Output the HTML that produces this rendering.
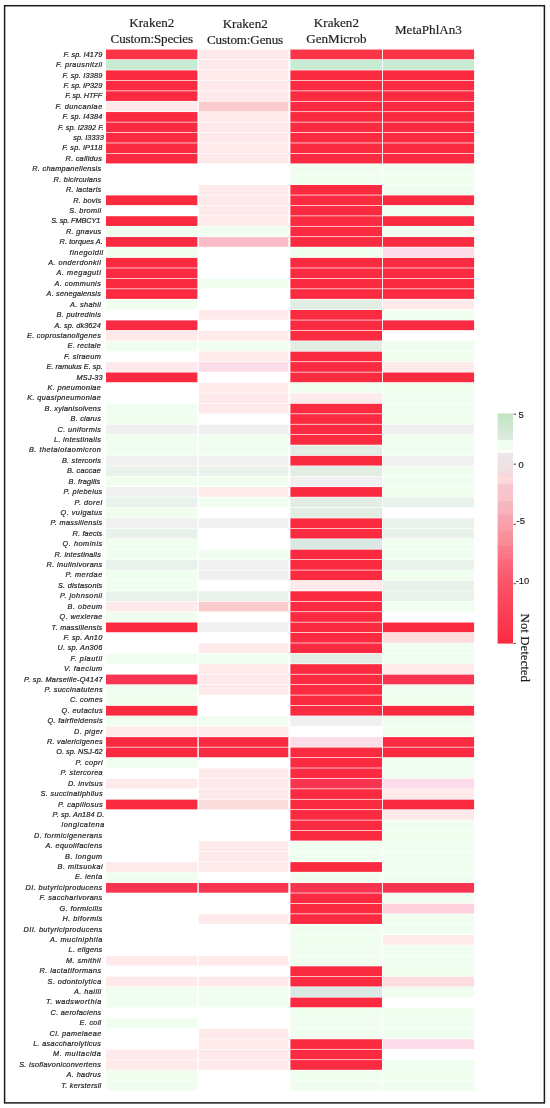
<!DOCTYPE html>
<html lang="en"><head><meta charset="utf-8"><title>Heatmap</title>
<style>
html,body{margin:0;padding:0;background:#fff;}
body{width:550px;height:1108px;overflow:hidden;}
svg{display:block;}
.hd{font-family:"Liberation Serif","DejaVu Serif",serif;font-size:13.1px;fill:#1e1e1e;stroke:#1e1e1e;stroke-width:0.18px;text-anchor:middle;}
.lb{font-family:"Liberation Sans","DejaVu Sans",sans-serif;font-style:italic;font-size:7.3px;fill:#222;stroke:#222;stroke-width:0.2px;text-anchor:end;}
.tk{font-family:"Liberation Sans","DejaVu Sans",sans-serif;font-size:9.4px;fill:#1e1e1e;stroke:#1e1e1e;stroke-width:0.2px;}
.nd{font-family:"Liberation Serif","DejaVu Serif",serif;font-size:12.9px;fill:#1e1e1e;stroke:#1e1e1e;stroke-width:0.18px;}
</style></head><body>
<svg width="550" height="1108" viewBox="0 0 550 1108">
<rect x="0" y="0" width="550" height="1108" fill="#ffffff"/>
<rect x="4.6" y="5.7" width="539.8" height="1097.2" fill="none" stroke="#1c1c1c" stroke-width="1.5"/>
<defs>
<linearGradient id="cg" x1="0" y1="0" x2="0" y2="1">
<stop offset="0" stop-color="#c2e6c2"/><stop offset="1" stop-color="#dde9e1"/>
</linearGradient>
<linearGradient id="cr" x1="0" y1="0" x2="0" y2="1">
<stop offset="0.0000" stop-color="#ebe7e9"/>
<stop offset="0.0901" stop-color="#f0dfe2"/>
<stop offset="0.1247" stop-color="#f6d6da"/>
<stop offset="0.1279" stop-color="#fddadb"/>
<stop offset="0.1635" stop-color="#fdd6d8"/>
<stop offset="0.1656" stop-color="#f3c8ce"/>
<stop offset="0.2500" stop-color="#fcc2c6"/>
<stop offset="0.2521" stop-color="#f2b8c2"/>
<stop offset="0.3229" stop-color="#fcb0b6"/>
<stop offset="0.3249" stop-color="#f4a6b4"/>
<stop offset="0.4088" stop-color="#fc9ca6"/>
<stop offset="0.4109" stop-color="#f894a0"/>
<stop offset="0.4879" stop-color="#fc8a94"/>
<stop offset="0.4900" stop-color="#fa7e90"/>
<stop offset="0.5545" stop-color="#fa7484"/>
<stop offset="0.5566" stop-color="#fa6c7e"/>
<stop offset="0.6824" stop-color="#fa5468"/>
<stop offset="1.0000" stop-color="#fa2a41"/>
</linearGradient>
</defs>
<g class="hd"><text x="151.8" y="27">Kraken2</text><text x="151.8" y="43.3" textLength="82.4">Custom:Species</text><text x="245.2" y="28">Kraken2</text><text x="245.1" y="44.4" textLength="76.2">Custom:Genus</text><text x="336.4" y="27">Kraken2</text><text x="336.4" y="43.3">GenMicrob</text><text x="428.4" y="33.5">MetaPhlAn3</text></g>
<g><rect x="106.0" y="49.55" width="91.4" height="9.72" fill="#fb3447"/><rect x="198.8" y="49.55" width="89.5" height="9.72" fill="#feeaea"/><rect x="290.4" y="49.55" width="91.6" height="9.72" fill="#fb3447"/><rect x="382.9" y="49.55" width="91.2" height="9.72" fill="#fb3447"/>
<rect x="106.0" y="59.97" width="91.4" height="9.72" fill="#c8ebd4"/><rect x="198.8" y="59.97" width="89.5" height="9.72" fill="#feeaea"/><rect x="290.4" y="59.97" width="91.6" height="9.72" fill="#c8ebd4"/><rect x="382.9" y="59.97" width="91.2" height="9.72" fill="#c8ebd4"/>
<rect x="106.0" y="70.39" width="91.4" height="9.72" fill="#fa2a41"/><rect x="198.8" y="70.39" width="89.5" height="9.72" fill="#feeaea"/><rect x="290.4" y="70.39" width="91.6" height="9.72" fill="#fa2a41"/><rect x="382.9" y="70.39" width="91.2" height="9.72" fill="#fa2a41"/>
<rect x="106.0" y="80.80" width="91.4" height="9.72" fill="#fa2a41"/><rect x="198.8" y="80.80" width="89.5" height="9.72" fill="#feeaea"/><rect x="290.4" y="80.80" width="91.6" height="9.72" fill="#fa2a41"/><rect x="382.9" y="80.80" width="91.2" height="9.72" fill="#fa2a41"/>
<rect x="106.0" y="91.22" width="91.4" height="9.72" fill="#fa2a41"/><rect x="198.8" y="91.22" width="89.5" height="9.72" fill="#feeaea"/><rect x="290.4" y="91.22" width="91.6" height="9.72" fill="#fa2a41"/><rect x="382.9" y="91.22" width="91.2" height="9.72" fill="#fa2a41"/>
<rect x="106.0" y="101.64" width="91.4" height="9.72" fill="#feeaea"/><rect x="198.8" y="101.64" width="89.5" height="9.72" fill="#fbcacd"/><rect x="290.4" y="101.64" width="91.6" height="9.72" fill="#fa2a41"/><rect x="382.9" y="101.64" width="91.2" height="9.72" fill="#fa2a41"/>
<rect x="106.0" y="112.06" width="91.4" height="9.72" fill="#fa2a41"/><rect x="198.8" y="112.06" width="89.5" height="9.72" fill="#feeaea"/><rect x="290.4" y="112.06" width="91.6" height="9.72" fill="#fa2a41"/><rect x="382.9" y="112.06" width="91.2" height="9.72" fill="#fa2a41"/>
<rect x="106.0" y="122.47" width="91.4" height="9.72" fill="#fa2a41"/><rect x="198.8" y="122.47" width="89.5" height="9.72" fill="#feeaea"/><rect x="290.4" y="122.47" width="91.6" height="9.72" fill="#fa2a41"/><rect x="382.9" y="122.47" width="91.2" height="9.72" fill="#fa2a41"/>
<rect x="106.0" y="132.89" width="91.4" height="9.72" fill="#fa2a41"/><rect x="198.8" y="132.89" width="89.5" height="9.72" fill="#feeaea"/><rect x="290.4" y="132.89" width="91.6" height="9.72" fill="#fa2a41"/><rect x="382.9" y="132.89" width="91.2" height="9.72" fill="#fa2a41"/>
<rect x="106.0" y="143.31" width="91.4" height="9.72" fill="#fa2a41"/><rect x="198.8" y="143.31" width="89.5" height="9.72" fill="#feeaea"/><rect x="290.4" y="143.31" width="91.6" height="9.72" fill="#fa2a41"/><rect x="382.9" y="143.31" width="91.2" height="9.72" fill="#fa2a41"/>
<rect x="106.0" y="153.73" width="91.4" height="9.72" fill="#fa2a41"/><rect x="198.8" y="153.73" width="89.5" height="9.72" fill="#feeaea"/><rect x="290.4" y="153.73" width="91.6" height="9.72" fill="#fa2a41"/><rect x="382.9" y="153.73" width="91.2" height="9.72" fill="#fa2a41"/>
<rect x="290.4" y="164.14" width="91.6" height="9.72" fill="#effeef"/><rect x="382.9" y="164.14" width="91.2" height="9.72" fill="#effeef"/>
<rect x="290.4" y="174.56" width="91.6" height="9.72" fill="#effeef"/><rect x="382.9" y="174.56" width="91.2" height="9.72" fill="#effeef"/>
<rect x="198.8" y="184.98" width="89.5" height="9.72" fill="#feeaea"/><rect x="290.4" y="184.98" width="91.6" height="9.72" fill="#fa2a41"/><rect x="382.9" y="184.98" width="91.2" height="9.72" fill="#effeef"/>
<rect x="106.0" y="195.40" width="91.4" height="9.72" fill="#fa2a41"/><rect x="198.8" y="195.40" width="89.5" height="9.72" fill="#feeaea"/><rect x="290.4" y="195.40" width="91.6" height="9.72" fill="#fa2a41"/><rect x="382.9" y="195.40" width="91.2" height="9.72" fill="#fa2a41"/>
<rect x="198.8" y="205.82" width="89.5" height="9.72" fill="#feeaea"/><rect x="290.4" y="205.82" width="91.6" height="9.72" fill="#fa2a41"/><rect x="382.9" y="205.82" width="91.2" height="9.72" fill="#effeef"/>
<rect x="106.0" y="216.23" width="91.4" height="9.72" fill="#fa2a41"/><rect x="198.8" y="216.23" width="89.5" height="9.72" fill="#feeaea"/><rect x="290.4" y="216.23" width="91.6" height="9.72" fill="#fa2a41"/><rect x="382.9" y="216.23" width="91.2" height="9.72" fill="#fa2a41"/>
<rect x="106.0" y="226.65" width="91.4" height="9.72" fill="#effeef"/><rect x="198.8" y="226.65" width="89.5" height="9.72" fill="#effeef"/><rect x="290.4" y="226.65" width="91.6" height="9.72" fill="#fa2a41"/><rect x="382.9" y="226.65" width="91.2" height="9.72" fill="#effeef"/>
<rect x="106.0" y="237.07" width="91.4" height="9.72" fill="#fa2a41"/><rect x="198.8" y="237.07" width="89.5" height="9.72" fill="#fbbcc8"/><rect x="290.4" y="237.07" width="91.6" height="9.72" fill="#fa2a41"/><rect x="382.9" y="237.07" width="91.2" height="9.72" fill="#fa2a41"/>
<rect x="106.0" y="247.49" width="91.4" height="9.72" fill="#effeef"/><rect x="290.4" y="247.49" width="91.6" height="9.72" fill="#effeef"/><rect x="382.9" y="247.49" width="91.2" height="9.72" fill="#fcdce8"/>
<rect x="106.0" y="257.90" width="91.4" height="9.72" fill="#fa2a41"/><rect x="290.4" y="257.90" width="91.6" height="9.72" fill="#fa2a41"/><rect x="382.9" y="257.90" width="91.2" height="9.72" fill="#fa2a41"/>
<rect x="106.0" y="268.32" width="91.4" height="9.72" fill="#fa2a41"/><rect x="290.4" y="268.32" width="91.6" height="9.72" fill="#fa2a41"/><rect x="382.9" y="268.32" width="91.2" height="9.72" fill="#fa2a41"/>
<rect x="106.0" y="278.74" width="91.4" height="9.72" fill="#fa2a41"/><rect x="198.8" y="278.74" width="89.5" height="9.72" fill="#effeef"/><rect x="290.4" y="278.74" width="91.6" height="9.72" fill="#fa2a41"/><rect x="382.9" y="278.74" width="91.2" height="9.72" fill="#fa2a41"/>
<rect x="106.0" y="289.16" width="91.4" height="9.72" fill="#fa2a41"/><rect x="290.4" y="289.16" width="91.6" height="9.72" fill="#fa2a41"/><rect x="382.9" y="289.16" width="91.2" height="9.72" fill="#fa2a41"/>
<rect x="106.0" y="299.57" width="91.4" height="9.72" fill="#effeef"/><rect x="290.4" y="299.57" width="91.6" height="9.72" fill="#e2ede4"/><rect x="382.9" y="299.57" width="91.2" height="9.72" fill="#feeaea"/>
<rect x="198.8" y="309.99" width="89.5" height="9.72" fill="#feeaea"/><rect x="290.4" y="309.99" width="91.6" height="9.72" fill="#fa2a41"/><rect x="382.9" y="309.99" width="91.2" height="9.72" fill="#effeef"/>
<rect x="106.0" y="320.41" width="91.4" height="9.72" fill="#fa2a41"/><rect x="290.4" y="320.41" width="91.6" height="9.72" fill="#fa2a41"/><rect x="382.9" y="320.41" width="91.2" height="9.72" fill="#fa2a41"/>
<rect x="106.0" y="330.83" width="91.4" height="9.72" fill="#feeaea"/><rect x="198.8" y="330.83" width="89.5" height="9.72" fill="#feeaea"/><rect x="290.4" y="330.83" width="91.6" height="9.72" fill="#fa2a41"/>
<rect x="106.0" y="341.25" width="91.4" height="9.72" fill="#effeef"/><rect x="198.8" y="341.25" width="89.5" height="9.72" fill="#effeef"/><rect x="290.4" y="341.25" width="91.6" height="9.72" fill="#e2ede4"/><rect x="382.9" y="341.25" width="91.2" height="9.72" fill="#effeef"/>
<rect x="198.8" y="351.66" width="89.5" height="9.72" fill="#feeaea"/><rect x="290.4" y="351.66" width="91.6" height="9.72" fill="#fa2a41"/><rect x="382.9" y="351.66" width="91.2" height="9.72" fill="#effeef"/>
<rect x="106.0" y="362.08" width="91.4" height="9.72" fill="#feeaea"/><rect x="198.8" y="362.08" width="89.5" height="9.72" fill="#fcdce8"/><rect x="290.4" y="362.08" width="91.6" height="9.72" fill="#fa2a41"/><rect x="382.9" y="362.08" width="91.2" height="9.72" fill="#feeaea"/>
<rect x="106.0" y="372.50" width="91.4" height="9.72" fill="#fa2a41"/><rect x="290.4" y="372.50" width="91.6" height="9.72" fill="#fa2a41"/><rect x="382.9" y="372.50" width="91.2" height="9.72" fill="#fa2a41"/>
<rect x="198.8" y="382.92" width="89.5" height="9.72" fill="#feeaea"/><rect x="290.4" y="382.92" width="91.6" height="9.72" fill="#effeef"/><rect x="382.9" y="382.92" width="91.2" height="9.72" fill="#effeef"/>
<rect x="198.8" y="393.33" width="89.5" height="9.72" fill="#feeaea"/><rect x="290.4" y="393.33" width="91.6" height="9.72" fill="#feeaea"/><rect x="382.9" y="393.33" width="91.2" height="9.72" fill="#effeef"/>
<rect x="106.0" y="403.75" width="91.4" height="9.72" fill="#effeef"/><rect x="198.8" y="403.75" width="89.5" height="9.72" fill="#feeaea"/><rect x="290.4" y="403.75" width="91.6" height="9.72" fill="#fa2a41"/><rect x="382.9" y="403.75" width="91.2" height="9.72" fill="#effeef"/>
<rect x="106.0" y="414.17" width="91.4" height="9.72" fill="#effeef"/><rect x="290.4" y="414.17" width="91.6" height="9.72" fill="#fa2a41"/><rect x="382.9" y="414.17" width="91.2" height="9.72" fill="#effeef"/>
<rect x="106.0" y="424.59" width="91.4" height="9.72" fill="#f1f0f0"/><rect x="198.8" y="424.59" width="89.5" height="9.72" fill="#f1f0f0"/><rect x="290.4" y="424.59" width="91.6" height="9.72" fill="#fa2a41"/><rect x="382.9" y="424.59" width="91.2" height="9.72" fill="#f1f0f0"/>
<rect x="106.0" y="435.00" width="91.4" height="9.72" fill="#effeef"/><rect x="198.8" y="435.00" width="89.5" height="9.72" fill="#effeef"/><rect x="290.4" y="435.00" width="91.6" height="9.72" fill="#fa2a41"/><rect x="382.9" y="435.00" width="91.2" height="9.72" fill="#effeef"/>
<rect x="106.0" y="445.42" width="91.4" height="9.72" fill="#effeef"/><rect x="198.8" y="445.42" width="89.5" height="9.72" fill="#effeef"/><rect x="290.4" y="445.42" width="91.6" height="9.72" fill="#e2ede4"/><rect x="382.9" y="445.42" width="91.2" height="9.72" fill="#effeef"/>
<rect x="106.0" y="455.84" width="91.4" height="9.72" fill="#f1f0f0"/><rect x="198.8" y="455.84" width="89.5" height="9.72" fill="#f1f0f0"/><rect x="290.4" y="455.84" width="91.6" height="9.72" fill="#fa2a41"/><rect x="382.9" y="455.84" width="91.2" height="9.72" fill="#f1f0f0"/>
<rect x="106.0" y="466.26" width="91.4" height="9.72" fill="#e8f1ea"/><rect x="198.8" y="466.26" width="89.5" height="9.72" fill="#e8f1ea"/><rect x="290.4" y="466.26" width="91.6" height="9.72" fill="#e2ede4"/><rect x="382.9" y="466.26" width="91.2" height="9.72" fill="#effeef"/>
<rect x="106.0" y="476.68" width="91.4" height="9.72" fill="#effeef"/><rect x="198.8" y="476.68" width="89.5" height="9.72" fill="#effeef"/><rect x="290.4" y="476.68" width="91.6" height="9.72" fill="#f1f0f0"/><rect x="382.9" y="476.68" width="91.2" height="9.72" fill="#effeef"/>
<rect x="106.0" y="487.09" width="91.4" height="9.72" fill="#f1f0f0"/><rect x="198.8" y="487.09" width="89.5" height="9.72" fill="#feeaea"/><rect x="290.4" y="487.09" width="91.6" height="9.72" fill="#fa2a41"/><rect x="382.9" y="487.09" width="91.2" height="9.72" fill="#effeef"/>
<rect x="106.0" y="497.51" width="91.4" height="9.72" fill="#e8f1ea"/><rect x="198.8" y="497.51" width="89.5" height="9.72" fill="#effeef"/><rect x="290.4" y="497.51" width="91.6" height="9.72" fill="#e2ede4"/><rect x="382.9" y="497.51" width="91.2" height="9.72" fill="#e8f1ea"/>
<rect x="106.0" y="507.93" width="91.4" height="9.72" fill="#effeef"/><rect x="290.4" y="507.93" width="91.6" height="9.72" fill="#e2ede4"/>
<rect x="106.0" y="518.35" width="91.4" height="9.72" fill="#f1f0f0"/><rect x="198.8" y="518.35" width="89.5" height="9.72" fill="#f1f0f0"/><rect x="290.4" y="518.35" width="91.6" height="9.72" fill="#fa2a41"/><rect x="382.9" y="518.35" width="91.2" height="9.72" fill="#e8f1ea"/>
<rect x="106.0" y="528.76" width="91.4" height="9.72" fill="#e8f1ea"/><rect x="290.4" y="528.76" width="91.6" height="9.72" fill="#fa2a41"/><rect x="382.9" y="528.76" width="91.2" height="9.72" fill="#e8f1ea"/>
<rect x="106.0" y="539.18" width="91.4" height="9.72" fill="#effeef"/><rect x="290.4" y="539.18" width="91.6" height="9.72" fill="#dae8e4"/><rect x="382.9" y="539.18" width="91.2" height="9.72" fill="#effeef"/>
<rect x="106.0" y="549.60" width="91.4" height="9.72" fill="#effeef"/><rect x="198.8" y="549.60" width="89.5" height="9.72" fill="#effeef"/><rect x="290.4" y="549.60" width="91.6" height="9.72" fill="#fa2a41"/><rect x="382.9" y="549.60" width="91.2" height="9.72" fill="#effeef"/>
<rect x="106.0" y="560.02" width="91.4" height="9.72" fill="#e8f1ea"/><rect x="198.8" y="560.02" width="89.5" height="9.72" fill="#f1f0f0"/><rect x="290.4" y="560.02" width="91.6" height="9.72" fill="#fa2a41"/><rect x="382.9" y="560.02" width="91.2" height="9.72" fill="#e8f1ea"/>
<rect x="106.0" y="570.43" width="91.4" height="9.72" fill="#effeef"/><rect x="198.8" y="570.43" width="89.5" height="9.72" fill="#f1f0f0"/><rect x="290.4" y="570.43" width="91.6" height="9.72" fill="#fa2a41"/><rect x="382.9" y="570.43" width="91.2" height="9.72" fill="#effeef"/>
<rect x="106.0" y="580.85" width="91.4" height="9.72" fill="#effeef"/><rect x="290.4" y="580.85" width="91.6" height="9.72" fill="#feeaea"/><rect x="382.9" y="580.85" width="91.2" height="9.72" fill="#e8f1ea"/>
<rect x="106.0" y="591.27" width="91.4" height="9.72" fill="#e8f1ea"/><rect x="198.8" y="591.27" width="89.5" height="9.72" fill="#e8f1ea"/><rect x="290.4" y="591.27" width="91.6" height="9.72" fill="#fa2a41"/><rect x="382.9" y="591.27" width="91.2" height="9.72" fill="#e8f1ea"/>
<rect x="106.0" y="601.69" width="91.4" height="9.72" fill="#feeaea"/><rect x="198.8" y="601.69" width="89.5" height="9.72" fill="#fbcacd"/><rect x="290.4" y="601.69" width="91.6" height="9.72" fill="#fa2a41"/><rect x="382.9" y="601.69" width="91.2" height="9.72" fill="#effeef"/>
<rect x="106.0" y="612.11" width="91.4" height="9.72" fill="#effeef"/><rect x="290.4" y="612.11" width="91.6" height="9.72" fill="#fa2a41"/>
<rect x="106.0" y="622.52" width="91.4" height="9.72" fill="#fa2a41"/><rect x="198.8" y="622.52" width="89.5" height="9.72" fill="#f1f0f0"/><rect x="290.4" y="622.52" width="91.6" height="9.72" fill="#fa2a41"/><rect x="382.9" y="622.52" width="91.2" height="9.72" fill="#fa2a41"/>
<rect x="290.4" y="632.94" width="91.6" height="9.72" fill="#fa2a41"/><rect x="382.9" y="632.94" width="91.2" height="9.72" fill="#fcdcdc"/>
<rect x="198.8" y="643.36" width="89.5" height="9.72" fill="#feeaea"/><rect x="290.4" y="643.36" width="91.6" height="9.72" fill="#fa2a41"/><rect x="382.9" y="643.36" width="91.2" height="9.72" fill="#effeef"/>
<rect x="106.0" y="653.78" width="91.4" height="9.72" fill="#effeef"/><rect x="198.8" y="653.78" width="89.5" height="9.72" fill="#effeef"/><rect x="290.4" y="653.78" width="91.6" height="9.72" fill="#e2ede4"/><rect x="382.9" y="653.78" width="91.2" height="9.72" fill="#effeef"/>
<rect x="198.8" y="664.19" width="89.5" height="9.72" fill="#feeaea"/><rect x="290.4" y="664.19" width="91.6" height="9.72" fill="#fa2a41"/><rect x="382.9" y="664.19" width="91.2" height="9.72" fill="#feeaea"/>
<rect x="106.0" y="674.61" width="91.4" height="9.72" fill="#f83450"/><rect x="198.8" y="674.61" width="89.5" height="9.72" fill="#feeaea"/><rect x="290.4" y="674.61" width="91.6" height="9.72" fill="#fa2a41"/><rect x="382.9" y="674.61" width="91.2" height="9.72" fill="#f83450"/>
<rect x="106.0" y="685.03" width="91.4" height="9.72" fill="#effeef"/><rect x="198.8" y="685.03" width="89.5" height="9.72" fill="#feeaea"/><rect x="290.4" y="685.03" width="91.6" height="9.72" fill="#fa2a41"/><rect x="382.9" y="685.03" width="91.2" height="9.72" fill="#effeef"/>
<rect x="106.0" y="695.45" width="91.4" height="9.72" fill="#effeef"/><rect x="290.4" y="695.45" width="91.6" height="9.72" fill="#fa2a41"/><rect x="382.9" y="695.45" width="91.2" height="9.72" fill="#effeef"/>
<rect x="106.0" y="705.87" width="91.4" height="9.72" fill="#fa2a41"/><rect x="290.4" y="705.87" width="91.6" height="9.72" fill="#fa2a41"/><rect x="382.9" y="705.87" width="91.2" height="9.72" fill="#fa2a41"/>
<rect x="106.0" y="716.28" width="91.4" height="9.72" fill="#effeef"/><rect x="198.8" y="716.28" width="89.5" height="9.72" fill="#effeef"/><rect x="290.4" y="716.28" width="91.6" height="9.72" fill="#f1f0f0"/><rect x="382.9" y="716.28" width="91.2" height="9.72" fill="#effeef"/>
<rect x="106.0" y="726.70" width="91.4" height="9.72" fill="#feeaea"/><rect x="198.8" y="726.70" width="89.5" height="9.72" fill="#feeaea"/><rect x="382.9" y="726.70" width="91.2" height="9.72" fill="#effeef"/>
<rect x="106.0" y="737.12" width="91.4" height="9.72" fill="#fa2a41"/><rect x="198.8" y="737.12" width="89.5" height="9.72" fill="#fa2a41"/><rect x="290.4" y="737.12" width="91.6" height="9.72" fill="#fcdce8"/><rect x="382.9" y="737.12" width="91.2" height="9.72" fill="#fa2a41"/>
<rect x="106.0" y="747.54" width="91.4" height="9.72" fill="#fa2a41"/><rect x="198.8" y="747.54" width="89.5" height="9.72" fill="#fa2a41"/><rect x="290.4" y="747.54" width="91.6" height="9.72" fill="#fa2a41"/><rect x="382.9" y="747.54" width="91.2" height="9.72" fill="#fa2a41"/>
<rect x="106.0" y="757.95" width="91.4" height="9.72" fill="#effeef"/><rect x="290.4" y="757.95" width="91.6" height="9.72" fill="#fa2a41"/><rect x="382.9" y="757.95" width="91.2" height="9.72" fill="#effeef"/>
<rect x="198.8" y="768.37" width="89.5" height="9.72" fill="#feeaea"/><rect x="290.4" y="768.37" width="91.6" height="9.72" fill="#fa2a41"/><rect x="382.9" y="768.37" width="91.2" height="9.72" fill="#effeef"/>
<rect x="106.0" y="778.79" width="91.4" height="9.72" fill="#feeaea"/><rect x="198.8" y="778.79" width="89.5" height="9.72" fill="#feeaea"/><rect x="290.4" y="778.79" width="91.6" height="9.72" fill="#f83450"/><rect x="382.9" y="778.79" width="91.2" height="9.72" fill="#fcdce8"/>
<rect x="198.8" y="789.21" width="89.5" height="9.72" fill="#feeaea"/><rect x="290.4" y="789.21" width="91.6" height="9.72" fill="#fa2a41"/><rect x="382.9" y="789.21" width="91.2" height="9.72" fill="#feeaea"/>
<rect x="106.0" y="799.62" width="91.4" height="9.72" fill="#fa2a41"/><rect x="198.8" y="799.62" width="89.5" height="9.72" fill="#fcdcdc"/><rect x="290.4" y="799.62" width="91.6" height="9.72" fill="#fa2a41"/><rect x="382.9" y="799.62" width="91.2" height="9.72" fill="#fa2a41"/>
<rect x="290.4" y="810.04" width="91.6" height="9.72" fill="#fa2a41"/><rect x="382.9" y="810.04" width="91.2" height="9.72" fill="#feeaea"/>
<rect x="290.4" y="820.46" width="91.6" height="9.72" fill="#fa2a41"/><rect x="382.9" y="820.46" width="91.2" height="9.72" fill="#effeef"/>
<rect x="290.4" y="830.88" width="91.6" height="9.72" fill="#fa2a41"/><rect x="382.9" y="830.88" width="91.2" height="9.72" fill="#effeef"/>
<rect x="198.8" y="841.30" width="89.5" height="9.72" fill="#feeaea"/><rect x="290.4" y="841.30" width="91.6" height="9.72" fill="#effeef"/><rect x="382.9" y="841.30" width="91.2" height="9.72" fill="#effeef"/>
<rect x="198.8" y="851.71" width="89.5" height="9.72" fill="#feeaea"/><rect x="290.4" y="851.71" width="91.6" height="9.72" fill="#effeef"/><rect x="382.9" y="851.71" width="91.2" height="9.72" fill="#effeef"/>
<rect x="106.0" y="862.13" width="91.4" height="9.72" fill="#feeaea"/><rect x="198.8" y="862.13" width="89.5" height="9.72" fill="#feeaea"/><rect x="290.4" y="862.13" width="91.6" height="9.72" fill="#fa2a41"/><rect x="382.9" y="862.13" width="91.2" height="9.72" fill="#effeef"/>
<rect x="106.0" y="872.55" width="91.4" height="9.72" fill="#effeef"/><rect x="290.4" y="872.55" width="91.6" height="9.72" fill="#effeef"/><rect x="382.9" y="872.55" width="91.2" height="9.72" fill="#effeef"/>
<rect x="106.0" y="882.97" width="91.4" height="9.72" fill="#f83450"/><rect x="198.8" y="882.97" width="89.5" height="9.72" fill="#f83450"/><rect x="290.4" y="882.97" width="91.6" height="9.72" fill="#f83450"/><rect x="382.9" y="882.97" width="91.2" height="9.72" fill="#f83450"/>
<rect x="290.4" y="893.38" width="91.6" height="9.72" fill="#fa2a41"/><rect x="382.9" y="893.38" width="91.2" height="9.72" fill="#effeef"/>
<rect x="290.4" y="903.80" width="91.6" height="9.72" fill="#fa2a41"/><rect x="382.9" y="903.80" width="91.2" height="9.72" fill="#fcd0dc"/>
<rect x="198.8" y="914.22" width="89.5" height="9.72" fill="#feeaea"/><rect x="290.4" y="914.22" width="91.6" height="9.72" fill="#fa2a41"/><rect x="382.9" y="914.22" width="91.2" height="9.72" fill="#effeef"/>
<rect x="290.4" y="924.64" width="91.6" height="9.72" fill="#effeef"/><rect x="382.9" y="924.64" width="91.2" height="9.72" fill="#effeef"/>
<rect x="290.4" y="935.05" width="91.6" height="9.72" fill="#effeef"/><rect x="382.9" y="935.05" width="91.2" height="9.72" fill="#feeaea"/>
<rect x="290.4" y="945.47" width="91.6" height="9.72" fill="#effeef"/><rect x="382.9" y="945.47" width="91.2" height="9.72" fill="#effeef"/>
<rect x="106.0" y="955.89" width="91.4" height="9.72" fill="#feeaea"/><rect x="198.8" y="955.89" width="89.5" height="9.72" fill="#feeaea"/><rect x="290.4" y="955.89" width="91.6" height="9.72" fill="#effeef"/><rect x="382.9" y="955.89" width="91.2" height="9.72" fill="#effeef"/>
<rect x="290.4" y="966.31" width="91.6" height="9.72" fill="#fa2a41"/><rect x="382.9" y="966.31" width="91.2" height="9.72" fill="#effeef"/>
<rect x="106.0" y="976.73" width="91.4" height="9.72" fill="#feeaea"/><rect x="198.8" y="976.73" width="89.5" height="9.72" fill="#feeaea"/><rect x="290.4" y="976.73" width="91.6" height="9.72" fill="#fa2a41"/><rect x="382.9" y="976.73" width="91.2" height="9.72" fill="#fcdcdc"/>
<rect x="106.0" y="987.14" width="91.4" height="9.72" fill="#effeef"/><rect x="198.8" y="987.14" width="89.5" height="9.72" fill="#effeef"/><rect x="290.4" y="987.14" width="91.6" height="9.72" fill="#dae8e4"/><rect x="382.9" y="987.14" width="91.2" height="9.72" fill="#effeef"/>
<rect x="106.0" y="997.56" width="91.4" height="9.72" fill="#effeef"/><rect x="198.8" y="997.56" width="89.5" height="9.72" fill="#effeef"/><rect x="290.4" y="997.56" width="91.6" height="9.72" fill="#fa2a41"/>
<rect x="290.4" y="1007.98" width="91.6" height="9.72" fill="#effeef"/><rect x="382.9" y="1007.98" width="91.2" height="9.72" fill="#effeef"/>
<rect x="106.0" y="1018.40" width="91.4" height="9.72" fill="#effeef"/><rect x="290.4" y="1018.40" width="91.6" height="9.72" fill="#effeef"/><rect x="382.9" y="1018.40" width="91.2" height="9.72" fill="#effeef"/>
<rect x="198.8" y="1028.81" width="89.5" height="9.72" fill="#feeaea"/><rect x="290.4" y="1028.81" width="91.6" height="9.72" fill="#effeef"/><rect x="382.9" y="1028.81" width="91.2" height="9.72" fill="#effeef"/>
<rect x="198.8" y="1039.23" width="89.5" height="9.72" fill="#feeaea"/><rect x="290.4" y="1039.23" width="91.6" height="9.72" fill="#fa2a41"/><rect x="382.9" y="1039.23" width="91.2" height="9.72" fill="#fcdce8"/>
<rect x="106.0" y="1049.65" width="91.4" height="9.72" fill="#feeaea"/><rect x="198.8" y="1049.65" width="89.5" height="9.72" fill="#feeaea"/><rect x="290.4" y="1049.65" width="91.6" height="9.72" fill="#fa2a41"/>
<rect x="106.0" y="1060.07" width="91.4" height="9.72" fill="#feeaea"/><rect x="198.8" y="1060.07" width="89.5" height="9.72" fill="#feeaea"/><rect x="290.4" y="1060.07" width="91.6" height="9.72" fill="#fa2a41"/><rect x="382.9" y="1060.07" width="91.2" height="9.72" fill="#effeef"/>
<rect x="106.0" y="1070.48" width="91.4" height="9.72" fill="#effeef"/><rect x="290.4" y="1070.48" width="91.6" height="9.72" fill="#effeef"/><rect x="382.9" y="1070.48" width="91.2" height="9.72" fill="#effeef"/>
<rect x="106.0" y="1080.90" width="91.4" height="9.72" fill="#effeef"/><rect x="290.4" y="1080.90" width="91.6" height="9.72" fill="#effeef"/><rect x="382.9" y="1080.90" width="91.2" height="9.72" fill="#effeef"/>
</g>
<g class="lb"><text x="102.2" y="56.75" textLength="38.6">F. sp. I4179</text>
<text x="102.2" y="67.16" textLength="46.2">F. prausnitzii</text>
<text x="102.2" y="77.58" textLength="39.6">F. sp. I3389</text>
<text x="102.2" y="87.99" textLength="38.6">F. sp. IP329</text>
<text x="102.2" y="98.41" textLength="37.0">F. sp. HTFF</text>
<text x="102.2" y="108.82" textLength="46.6">F. duncaniae</text>
<text x="102.2" y="119.23" textLength="39.6">F. sp. I4384</text>
<text x="103.8" y="129.65" textLength="45.8">F. sp. I2392 F.</text>
<text x="103.8" y="140.06" textLength="30.6">sp. I3333</text>
<text x="102.2" y="150.48" textLength="40.0">F. sp. IP118</text>
<text x="101.8" y="160.89" textLength="36.2">R. callidus</text>
<text x="101.2" y="171.30" textLength="69.0">R. champanellensis</text>
<text x="101.2" y="181.72" textLength="47.6">R. bicirculans</text>
<text x="101.2" y="192.13" textLength="35.2">R. lactaris</text>
<text x="101.2" y="202.55" textLength="28.0">R. bovis</text>
<text x="101.2" y="212.96" textLength="32.0">S. bromii</text>
<text x="100.2" y="223.37" textLength="49.0">S. sp. FMBCY1</text>
<text x="101.2" y="233.79" textLength="35.2">R. gnavus</text>
<text x="102.8" y="244.20" textLength="43.2">R. torques A.</text>
<text x="103.2" y="254.62" textLength="33.6">finegoldii</text>
<text x="100.8" y="265.03" textLength="52.6">A. onderdonkii</text>
<text x="100.8" y="275.44" textLength="44.2">A. megaguti</text>
<text x="100.8" y="285.86" textLength="46.2">A. communis</text>
<text x="100.8" y="296.27" textLength="54.2">A. senegalensis</text>
<text x="100.8" y="306.69" textLength="30.8">A. shahii</text>
<text x="100.8" y="317.10" textLength="44.2">B. putredinis</text>
<text x="100.8" y="327.51" textLength="46.2">A. sp. dk3624</text>
<text x="100.8" y="337.93" textLength="73.8">E. coprostanoligenes</text>
<text x="100.8" y="348.34" textLength="33.2">E. rectale</text>
<text x="100.8" y="358.76" textLength="36.8">F. siraeum</text>
<text x="102.6" y="369.17" textLength="56.0">E. ramulus E. sp.</text>
<text x="102.6" y="379.58" textLength="26.0">MSJ-33</text>
<text x="100.8" y="390.00" textLength="53.2">K. pneumoniae</text>
<text x="100.8" y="400.41" textLength="73.6">K. quasipneumoniae</text>
<text x="100.8" y="410.83" textLength="56.2">B. xylanisolvens</text>
<text x="100.8" y="421.24" textLength="30.2">B. clarus</text>
<text x="100.8" y="431.65" textLength="43.2">C. uniformis</text>
<text x="100.8" y="442.07" textLength="46.8">L. intestinalis</text>
<text x="100.8" y="452.48" textLength="71.8">B. thetaiotaomicron</text>
<text x="100.8" y="462.90" textLength="38.8">B. stercoris</text>
<text x="100.8" y="473.31" textLength="33.8">B. caccae</text>
<text x="100.2" y="483.72" textLength="31.6">B. fragilis</text>
<text x="102.2" y="494.14" textLength="38.6">P. plebeius</text>
<text x="102.2" y="504.55" textLength="27.6">P. dorei</text>
<text x="102.2" y="514.97" textLength="41.6">Q. vulgatus</text>
<text x="102.2" y="525.38" textLength="51.6">P. massiliensis</text>
<text x="102.2" y="535.79" textLength="29.6">R. faecis</text>
<text x="102.2" y="546.21" textLength="39.6">Q. hominis</text>
<text x="100.8" y="556.62" textLength="46.2">R. intestinalis</text>
<text x="102.2" y="567.04" textLength="55.6">R. inulinivorans</text>
<text x="102.2" y="577.45" textLength="36.6">P. merdae</text>
<text x="102.2" y="587.86" textLength="44.2">S. distasonis</text>
<text x="102.2" y="598.28" textLength="42.2">P. johnsonii</text>
<text x="102.2" y="608.69" textLength="34.6">B. obeum</text>
<text x="102.2" y="619.11" textLength="42.6">Q. wexlerae</text>
<text x="102.2" y="629.52" textLength="50.6">T. massiliensis</text>
<text x="102.2" y="639.93" textLength="38.6">F. sp. An10</text>
<text x="102.2" y="650.35" textLength="44.6">U. sp. An306</text>
<text x="102.2" y="660.76" textLength="31.6">F. plautii</text>
<text x="102.2" y="671.18" textLength="38.2">V. faecium</text>
<text x="102.6" y="681.59" textLength="78.6">P. sp. Marseille-Q4147</text>
<text x="102.6" y="692.00" textLength="58.0">P. succinatutens</text>
<text x="102.6" y="702.42" textLength="32.6">C. comes</text>
<text x="102.6" y="712.83" textLength="41.0">Q. eutactus</text>
<text x="102.6" y="723.25" textLength="55.0">Q. fairfieldensis</text>
<text x="102.6" y="733.66" textLength="28.6">D. piger</text>
<text x="102.6" y="744.07" textLength="55.6">R. valericigenes</text>
<text x="102.6" y="754.49" textLength="46.4">O. sp. NSJ-62</text>
<text x="102.6" y="764.90" textLength="27.0">P. copri</text>
<text x="102.6" y="775.32" textLength="42.0">P. stercorea</text>
<text x="102.6" y="785.73" textLength="34.6">D. invisus</text>
<text x="102.6" y="796.14" textLength="62.0">S. succinatiphilus</text>
<text x="102.6" y="806.56" textLength="44.6">P. capillosus</text>
<text x="104.2" y="816.97" textLength="51.6">P. sp. An184 D.</text>
<text x="104.2" y="827.39" textLength="42.6">longicatena</text>
<text x="102.2" y="837.80" textLength="68.2">D. formicigenerans</text>
<text x="102.2" y="848.21" textLength="56.6">A. equolifaciens</text>
<text x="102.2" y="858.63" textLength="37.2">B. longum</text>
<text x="102.6" y="869.04" textLength="45.0">B. mitsuokai</text>
<text x="102.2" y="879.46" textLength="27.2">E. lenta</text>
<text x="102.2" y="889.87" textLength="76.6">DI. butyriciproducens</text>
<text x="102.2" y="900.28" textLength="62.6">F. saccharivorans</text>
<text x="102.2" y="910.70" textLength="42.6">G. formicilis</text>
<text x="102.2" y="921.11" textLength="39.6">H. biformis</text>
<text x="102.2" y="931.53" textLength="78.6">DII. butyriciproducens</text>
<text x="102.2" y="941.94" textLength="52.2">A. muciniphila</text>
<text x="102.2" y="952.35" textLength="33.6">L. eligens</text>
<text x="100.6" y="962.77" textLength="34.6">M. smithii</text>
<text x="101.2" y="973.18" textLength="61.6">R. lactatiformans</text>
<text x="101.2" y="983.60" textLength="53.6">S. odontolytica</text>
<text x="101.2" y="994.01" textLength="27.2">A. hallii</text>
<text x="101.2" y="1004.42" textLength="55.2">T. wadsworthia</text>
<text x="101.2" y="1014.84" textLength="50.6">C. aerofaciens</text>
<text x="101.2" y="1025.25" textLength="21.6">E. coli</text>
<text x="101.2" y="1035.67" textLength="51.6">Cl. pamelaeae</text>
<text x="100.8" y="1046.08" textLength="67.6">L. asaccharolyticus</text>
<text x="100.8" y="1056.49" textLength="47.8">M. multacida</text>
<text x="100.8" y="1066.91" textLength="81.6">S. isoflavoniconvertens</text>
<text x="100.8" y="1077.32" textLength="34.2">A. hadrus</text>
<text x="101.2" y="1087.74" textLength="40.0">T. kerstersii</text>
</g>
<rect x="497.6" y="413.4" width="15.4" height="26.6" fill="url(#cg)"/>
<rect x="497.6" y="440" width="15.4" height="10.2" fill="#effeef"/>
<rect x="497.6" y="452.8" width="15.4" height="190.8" fill="url(#cr)"/>
<g stroke="#333" stroke-width="0.9">
<line x1="513.6" y1="414.2" x2="516" y2="414.2"/>
<line x1="513.6" y1="464.2" x2="516" y2="464.2"/>
<line x1="513.6" y1="524.3" x2="516" y2="524.3"/>
<line x1="513.6" y1="583.7" x2="516" y2="583.7"/>
<line x1="513.6" y1="643.4" x2="516" y2="643.4"/>
</g>
<g class="tk">
<text x="518.4" y="418.1">5</text>
<text x="518.4" y="467.8">0</text>
<text x="516.6" y="524.2">-5</text>
<text x="515.7" y="583.8">-10</text>
</g>
<text class="nd" transform="translate(521.4,613.6) rotate(90)">Not Detected</text>
</svg>
</body></html>
